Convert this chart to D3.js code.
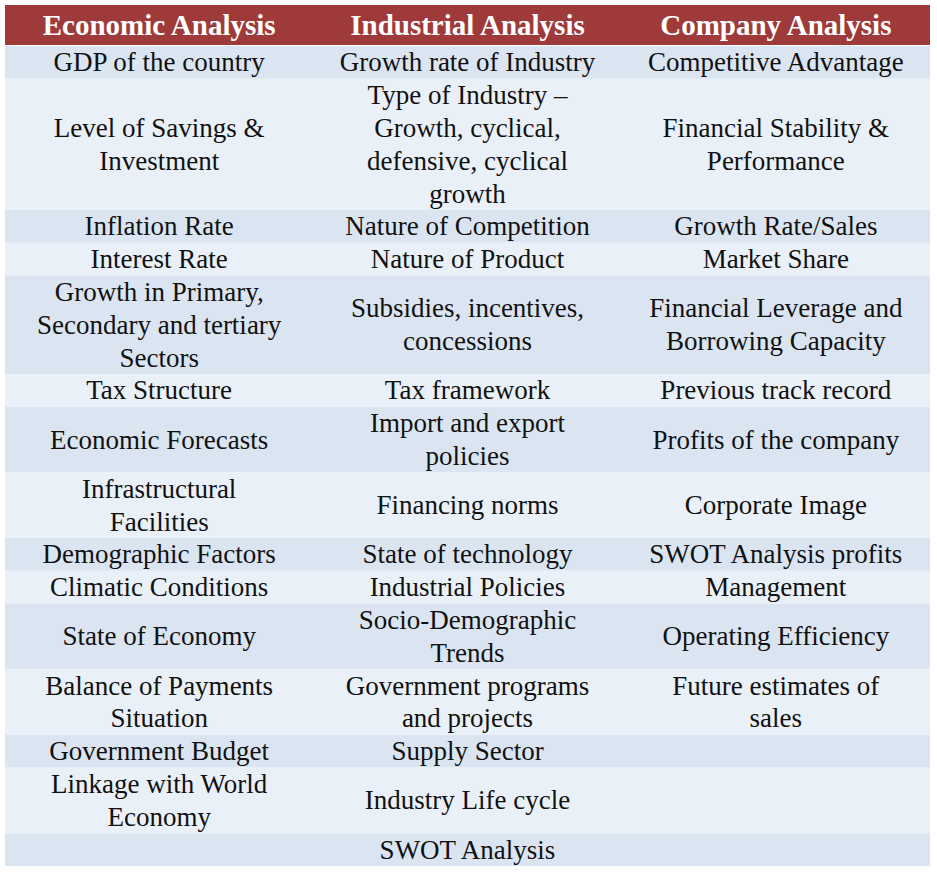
<!DOCTYPE html>
<html><head><meta charset="utf-8">
<script src="https://cdn.jsdelivr.net/npm/d3@7"></script>
<style>body{margin:0;background:#fff}</style>
</head><body>
<svg id="chart" width="937" height="875"></svg>
<script>
const headers = ['Economic Analysis', 'Industrial Analysis', 'Company Analysis']
const economic = ['GDP of the country', 'Level of Savings &\nInvestment', 'Inflation Rate', 'Interest Rate',
	'Growth in Primary,\nSecondary and tertiary\nSectors', 'Tax Structure', 'Economic Forecasts',
	'Infrastructural\nFacilities', 'Demographic Factors', 'Climatic Conditions', 'State of Economy',
	'Balance of Payments\nSituation', 'Government Budget', 'Linkage with World\nEconomy', '']
const industrial = ['Growth rate of Industry', 'Type of Industry –\nGrowth, cyclical,\ndefensive, cyclical\ngrowth',
	'Nature of Competition', 'Nature of Product', 'Subsidies, incentives,\nconcessions', 'Tax framework',
	'Import and export\npolicies', 'Financing norms', 'State of technology', 'Industrial Policies',
	'Socio-Demographic\nTrends', 'Government programs\nand projects', 'Supply Sector', 'Industry Life cycle',
	'SWOT Analysis']
const company = ['Competitive Advantage', 'Financial Stability &\nPerformance', 'Growth Rate/Sales', 'Market Share',
	'Financial Leverage and\nBorrowing Capacity', 'Previous track record', 'Profits of the company',
	'Corporate Image', 'SWOT Analysis profits', 'Management', 'Operating Efficiency',
	'Future estimates of\nsales', '', '', '']
const rowLines = [1, 4, 1, 1, 3, 1, 2, 2, 1, 1, 2, 2, 1, 2, 1]

const svg = d3.select('#chart')
const tLeft = 5, tRight = 930, tTop = 5, headH = 40, lineH = 32.8
const x = d3.scaleBand().domain(d3.range(3)).range([tLeft, tRight])
const font = "'Liberation Serif', serif"

// header
svg.append('rect').attr('x', tLeft).attr('y', tTop).attr('width', tRight - tLeft).attr('height', headH).attr('fill', '#9f3a3a')
svg.selectAll('text.head').data(headers).join('text')
	.attr('class', 'head')
	.attr('x', (d, i) => x(i) + x.bandwidth() / 2)
	.attr('y', tTop + headH / 2 + 10)
	.attr('text-anchor', 'middle')
	.attr('fill', 'white').attr('font-family', font).attr('font-weight', 'bold').attr('font-size', 29)
	.text(d => d)

// rows
let y0 = tTop + headH + 1
const rows = rowLines.map((n, i) => {
	const r = {i: i, y: y0, h: n * lineH, cells: [economic[i], industrial[i], company[i]]}
	y0 += r.h
	return r
})

const g = svg.selectAll('g.row').data(rows).join('g').attr('class', 'row')
g.append('rect')
	.attr('x', tLeft).attr('y', d => d.y).attr('width', tRight - tLeft).attr('height', d => d.h)
	.attr('fill', d => d.i % 2 === 0 ? '#dbe5f1' : '#eaf0f8')

g.each(function(r) {
	d3.select(this).selectAll('text').data(r.cells).join('text')
		.attr('text-anchor', 'middle')
		.attr('font-family', font).attr('font-size', 27).attr('fill', '#111')
		.each(function(t, c) {
			const lines = t ? t.split('\n') : []
			const start = r.y + r.h / 2 - (lines.length - 1) * lineH / 2 + 9
			d3.select(this).selectAll('tspan').data(lines).join('tspan')
				.attr('x', x(c) + x.bandwidth() / 2)
				.attr('y', (l, k) => start + k * lineH)
				.text(l => l)
		})
})
</script>
</body></html>
